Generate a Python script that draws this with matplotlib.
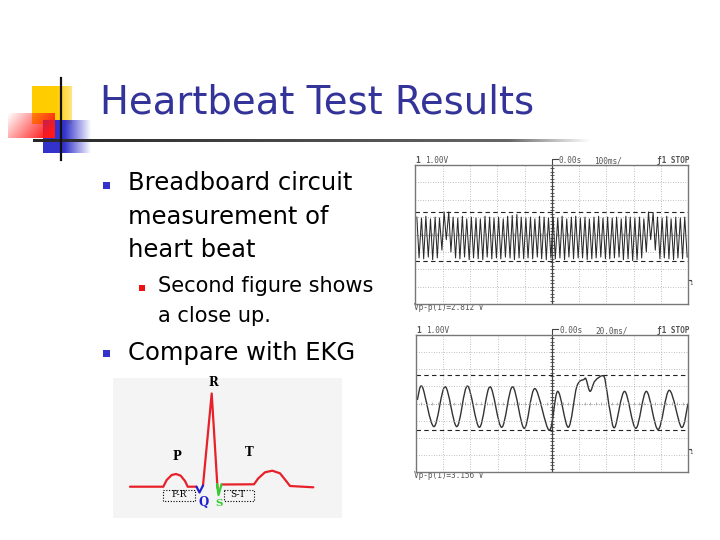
import numpy as np
import matplotlib.pyplot as plt
from matplotlib.path import Path
from matplotlib.patches import PathPatch, Rectangle

# ---- top scope trace (100 ms/div): peak / trough times in divisions, values in V ----
top_peak_t = [
    0.05, 0.22, 0.38, 0.55, 0.72, 0.88,
    1.05, 1.22, 1.38, 1.55, 1.72, 1.88,
    2.05, 2.22, 2.38, 2.55, 2.72, 2.88,
    3.05, 3.22, 3.38, 3.55, 3.72, 3.88,
    4.05, 4.22, 4.38, 4.55, 4.72, 4.88,
    5.05, 5.22, 5.38, 5.55, 5.72, 5.88,
    6.05, 6.22, 6.38, 6.55, 6.72, 6.88,
    7.05, 7.22, 7.38, 7.55, 7.72, 7.88,
    8.05, 8.22, 8.38, 8.55, 8.72, 8.88,
    9.05, 9.22, 9.38, 9.55, 9.72, 9.88,
]
top_peak_v = [
    1.00, 0.95, 1.05, 0.90, 1.00, 0.95,
    1.30, 1.30, 1.00, 0.95, 1.05, 0.90,
    1.00, 0.95, 0.90, 1.05, 1.00, 0.95,
    1.00, 0.90, 1.05, 1.10, 1.15, 1.00,
    0.95, 1.00, 0.90, 1.05, 1.00, 0.95,
    1.00, 0.95, 1.05, 0.90, 1.00, 1.05,
    0.95, 1.00, 0.90, 1.00, 1.05, 0.95,
    1.00, 0.95, 1.00, 0.90, 1.05, 1.00,
    0.95, 1.00, 0.90, 1.30, 1.25, 1.00,
    0.95, 1.05, 0.90, 1.00, 0.95, 1.00,
]
top_trough_t = [
    0.13, 0.30, 0.47, 0.63, 0.80, 0.97,
    1.13, 1.30, 1.47, 1.63, 1.80, 1.97,
    2.13, 2.30, 2.47, 2.63, 2.80, 2.97,
    3.13, 3.30, 3.47, 3.63, 3.80, 3.97,
    4.13, 4.30, 4.47, 4.63, 4.80, 4.97,
    5.13, 5.30, 5.47, 5.63, 5.80, 5.97,
    6.13, 6.30, 6.47, 6.63, 6.80, 6.97,
    7.13, 7.30, 7.47, 7.63, 7.80, 7.97,
    8.13, 8.30, 8.47, 8.63, 8.80, 8.97,
    9.13, 9.30, 9.47, 9.63, 9.80, 9.97,
]
top_trough_v = [
    -1.35, -1.40, -1.30, -1.45, -1.35, -0.90,
    -0.30, -1.00, -1.35, -1.40, -1.30, -1.45,
    -1.35, -1.40, -1.45, -1.30, -1.40, -1.35,
    -1.40, -1.30, -1.35, -1.45, -1.35, -1.40,
    -1.35, -1.40, -1.30, -1.40, -1.45, -1.35,
    -1.40, -1.35, -1.45, -1.30, -1.40, -1.35,
    -1.35, -1.45, -1.40, -1.35, -1.30, -1.40,
    -1.40, -1.35, -1.30, -1.45, -1.40, -1.50,
    -1.45, -1.35, -1.00, -0.30, -0.90, -1.40,
    -1.35, -1.40, -1.45, -1.35, -1.40, -1.30,
]
top_dash = [1.31, -1.50]

# ---- bottom scope trace (20 ms/div, close up) ----
bot_t = [0.05, 0.23, 0.66, 1.07, 1.50, 1.89, 2.33, 2.72, 3.15, 3.55, 3.98, 4.37,
         4.90, 5.21, 5.60, 5.91, 6.18, 6.25, 6.40, 6.58, 6.89, 7.00, 7.13, 7.31,
         7.67, 8.08, 8.47, 8.90, 9.31, 9.76, 10.0]
bot_v = [0.21, 0.98, -1.35, 0.98, -1.35, 1.02, -1.39, 0.98, -1.39, 0.98, -1.45, 0.87,
         -1.56, 0.71, -1.39, 0.98, 1.41, 1.43, 0.71, 1.32, 1.61, 0.90, -0.40, -1.39,
         0.71, -1.45, 0.71, -1.52, 0.77, -1.39, 0.0]
bot_dash = [1.64, -1.52]

# ---- EKG sketch (pixel coordinates of the inserted picture) ----
ekg_p_x = [130, 163.3, 166.7, 171.7, 176, 180.7, 185, 187.7, 196.5]
ekg_p_y = [486.7, 486.7, 480, 475, 474, 475.7, 481, 486.7, 486.7]
ekg_q_x = [196.5, 199.5, 203]
ekg_q_y = [486.7, 492.5, 485.5]
ekg_r_x = [203, 211.7, 217.5]
ekg_r_y = [485.5, 393.5, 488]
ekg_s_x = [217, 218.5, 221.5]
ekg_s_y = [484, 495, 484.5]
ekg_t_x = [221.5, 254, 258.3, 265, 272.3, 280, 286.7, 290, 313.3]
ekg_t_y = [484.5, 484.3, 478.3, 472.3, 470.7, 473.3, 481.7, 486, 487.3]

W, H = 720, 540
fig = plt.figure(figsize=(7.2, 5.4), dpi=100)
bg = fig.add_axes([0, 0, 1, 1])
bg.set_xlim(0, W)
bg.set_ylim(H, 0)
bg.axis('off')


def px_axes(x0, y0, x1, y1):
    return fig.add_axes([x0 / W, 1 - y1 / H, (x1 - x0) / W, (y1 - y0) / H])


def smooth_path(xs, ys):
    p = np.column_stack([xs, ys]).astype(float)
    n = len(p)
    verts = [p[0]]
    codes = [Path.MOVETO]
    for i in range(n - 1):
        m0 = (p[min(i + 1, n - 1)] - p[max(i - 1, 0)]) / 2
        m1 = (p[min(i + 2, n - 1)] - p[i]) / 2
        verts += [p[i] + m0 / 3, p[i + 1] - m1 / 3, p[i + 1]]
        codes += [Path.CURVE4] * 3
    return Path(verts, codes)


def gradient(x0, y0, x1, y1, rgb, alpha, z):
    img = np.zeros((alpha.shape[0], alpha.shape[1], 4))
    img[..., :3] = rgb
    img[..., 3] = alpha
    bg.imshow(img, extent=(x0, x1, y1, y0), aspect='auto',
              interpolation='bilinear', zorder=z)


# ---- title logo ----
u = np.linspace(0, 1, 60)[None, :] * np.ones((40, 1))
v = np.linspace(0, 1, 40)[:, None] * np.ones((1, 60))
gradient(32, 86, 72, 124, (1.0, 0.8, 0.0), np.clip(1.8 - 1.3 * u, 0, 1), 2)
gradient(43, 120, 97, 153, (0.2, 0.2, 0.8), np.clip(1.8 - 2.0 * u, 0, 1), 3)
gradient(8, 113, 55, 138, (1.0, 0.1, 0.1), np.clip(0.8 * u + 0.35 * v, 0, 1), 4)
line_a = np.ones((1, 200))
line_a[0, 170:] = np.linspace(1, 0, 30)
line_img = np.zeros((1, 200, 4))
line_img[0, :, :3] = np.linspace(0.15, 0.45, 200)[:, None]
line_img[0, :, 3] = line_a
bg.imshow(line_img, extent=(33, 592, 142.3, 140.0), aspect='auto',
          interpolation='bilinear', zorder=5)
bg.plot([61, 61], [78, 160], color='#111111', lw=1.6, zorder=6)

bg.text(100, 114, 'Heartbeat Test Results', fontsize=27.8, color='#333399',
        family='DejaVu Sans', va='baseline', ha='left')

# ---- bullets ----
txt = dict(family='DejaVu Sans', color='black', va='baseline', ha='left')
bg.add_patch(Rectangle((103, 181.5), 7, 7, color='#3333cc', lw=0))
bg.text(128, 190, 'Breadboard circuit', fontsize=17.5, **txt)
bg.text(128, 223.5, 'measurement of', fontsize=17.5, **txt)
bg.text(128, 257, 'heart beat', fontsize=17.5, **txt)
bg.add_patch(Rectangle((138.5, 285), 6, 6, color='#ee1111', lw=0))
bg.text(158, 292.5, 'Second figure shows', fontsize=15, **txt)
bg.text(158, 322, 'a close up.', fontsize=15, **txt)
bg.add_patch(Rectangle((103, 350), 7, 7, color='#3333cc', lw=0))
bg.text(128, 360, 'Compare with EKG', fontsize=17.5, **txt)


# ---- oscilloscope screens ----
def scope(rect, t, volts, dash, smooth, timebase, vpp):
    x0, y0, x1, y1 = rect
    ax = px_axes(x0, y0, x1, y1)
    ax.set_xlim(0, 10)
    ax.set_ylim(-4, 4)
    ax.set_xticks([])
    ax.set_yticks([])
    for s in ax.spines.values():
        s.set_color('#777777')
        s.set_linewidth(1.0)
    for gx in [1, 2, 3, 4, 6, 7, 8, 9]:
        ax.axvline(gx, color='#aaaaaa', lw=0.6, ls=(0, (1, 2)))
    for gy in [-3, -2, -1, 1, 2, 3]:
        ax.axhline(gy, color='#aaaaaa', lw=0.6, ls=(0, (1, 2)))
    ax.axhline(0, color='#999999', lw=0.7, ls=(0, (1, 1.5)))
    ax.axvline(5, color='#444444', lw=0.9)
    ax.hlines(np.arange(-4, 4.01, 0.2), 4.93, 5.07, color='#444444', lw=0.6)
    ax.vlines(np.arange(0, 10.01, 0.2), -0.09, 0.09, color='#999999', lw=0.5)
    for d in dash:
        ax.axhline(d, color='#222222', lw=0.8, ls=(0, (4, 3)))
    if smooth:
        ax.add_patch(PathPatch(smooth_path(t, volts), fill=False,
                               ec='#333333', lw=1.0))
    else:
        ax.plot(t, volts, color='#2a2a2a', lw=0.75)

    mono = dict(family='DejaVu Sans Mono', fontsize=5.6, color='#555555',
                va='baseline')
    base = y0 - 2
    bg.text(x0, base, '1', fontweight='bold', **mono)
    bg.text(x0 + 10, base, '1.00V', **mono)
    cx = (x0 + x1) / 2
    bg.plot([cx, cx, cx + 6], [y0, y0 - 6, y0 - 6], color='#444444', lw=0.8)
    bg.text(cx + 7, base, '0.00s', **mono)
    bg.text(x0 + 179, base, timebase, **mono)
    bg.text(x1 + 1, base, 'ƒ1 STOP', fontweight='bold', ha='right', **mono)
    bg.text(x0 - 2, y1 + 6, vpp, **mono)
    gy = y1 - (y1 - y0) * 0.17
    bg.plot([x1 - 2, x1 + 3], [gy, gy], color='#444444', lw=0.8)
    bg.text(x1 + 1, gy + 5, '1', fontsize=4, color='#444444', family='DejaVu Sans Mono')


top_t = top_peak_t + top_trough_t
top_v = top_peak_v + top_trough_v
order = np.argsort(top_t)
scope((415.5, 165, 688, 304), np.array(top_t)[order], np.array(top_v)[order],
      top_dash, False, '100ms/', 'Vp-p(1)=2.812 V')
scope((416, 335, 688, 472), bot_t, bot_v, bot_dash, True, '20.0ms/',
      'Vp-p(1)=3.156 V')

# ---- EKG picture ----
bg.add_patch(Rectangle((113, 378), 229, 140, color='#f4f4f4', lw=0, zorder=1))
ekg = dict(lw=1.6, solid_joinstyle='round', solid_capstyle='round', zorder=3)
bg.plot(ekg_p_x, ekg_p_y, color='#e8202a', **ekg)
bg.plot(ekg_r_x, ekg_r_y, color='#e8202a', **ekg)
bg.plot(ekg_t_x, ekg_t_y, color='#e8202a', **ekg)
bg.plot(ekg_q_x, ekg_q_y, color='#2222cc', **ekg)
bg.plot(ekg_s_x, ekg_s_y, color='#33cc33', **ekg)
serif = dict(family='DejaVu Serif', ha='center', va='center', zorder=4)
bg.text(213.3, 383, 'R', fontsize=8.5, fontweight='bold', **serif)
bg.text(176.7, 457, 'P', fontsize=8.5, fontweight='bold', **serif)
bg.text(249.5, 452, 'T', fontsize=8.5, fontweight='bold', **serif)
bg.text(204, 502, 'Q', fontsize=8.5, fontweight='bold', color='#2222cc', **serif)
bg.text(219, 504, 'S', fontsize=7.5, fontweight='bold', color='#33cc33', **serif)
bg.text(178.7, 494.5, 'P-R', fontsize=6.5, **serif)
bg.text(238, 494.5, 'S-T', fontsize=6.5, **serif)
for bx0, bx1 in [(162.7, 195), (224, 254)]:
    bg.add_patch(Rectangle((bx0, 489.5), bx1 - bx0, 11, fill=False, ec='black',
                           lw=0.8, ls=(0, (1, 1.5)), zorder=4))

fig.savefig('out.png', dpi=100, facecolor='white')
